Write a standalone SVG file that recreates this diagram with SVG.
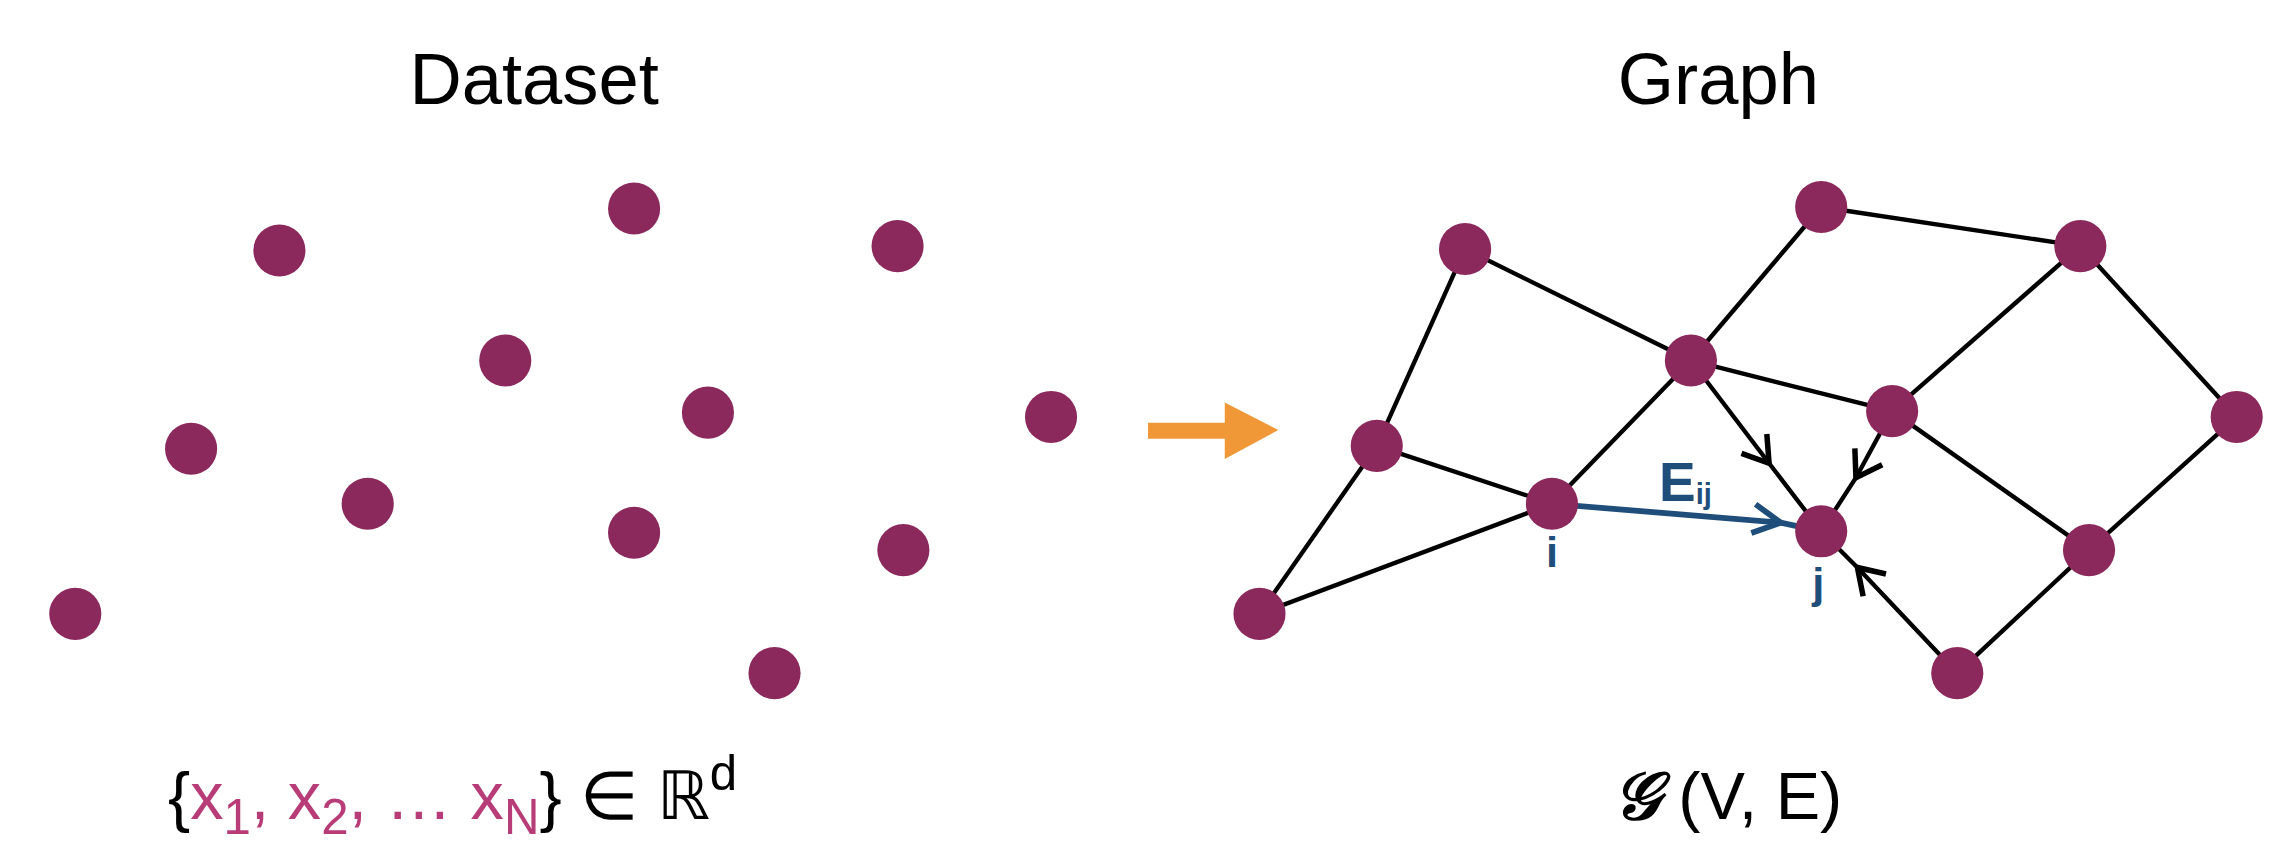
<svg xmlns="http://www.w3.org/2000/svg" width="2270" height="844" viewBox="0 0 2270 844">
<defs>
<style>
.dot{fill:#8b285c}
.e{stroke:#000;stroke-width:3;fill:none}
.t{font-family:"Liberation Sans",Arial,sans-serif;fill:#000}
.lb{font-family:"Liberation Sans",Arial,sans-serif;font-weight:bold;fill:#1f4e7a}
.x{fill:#b83c78}
</style>
<marker id="ch" viewBox="-20 -14 22 28" markerWidth="22" markerHeight="28" markerUnits="userSpaceOnUse" orient="auto" refX="0" refY="0">
<path d="M-17,-11 L0,0 L-17,11" fill="none" stroke="#000" stroke-width="3.8"/>
</marker>
<marker id="chb" viewBox="-22 -14 24 28" markerWidth="24" markerHeight="28" markerUnits="userSpaceOnUse" orient="auto" refX="0" refY="0">
<path d="M-19,-10 L0,0 L-19,10" fill="none" stroke="#1f4e7a" stroke-width="4"/>
</marker>
</defs>
<rect width="2270" height="844" fill="#fff"/>
<g transform="scale(1.4477)">
<text class="t" x="369" y="72" font-size="50" text-anchor="middle">Dataset</text>
<text class="t" x="1187" y="72" font-size="50" text-anchor="middle">Graph</text>
<g id="dataset">
<circle class="dot" cx="193" cy="173" r="18"/><circle class="dot" cx="438" cy="144" r="18"/>
<circle class="dot" cx="620" cy="170" r="18"/><circle class="dot" cx="349" cy="249" r="18"/>
<circle class="dot" cx="489" cy="285" r="18"/><circle class="dot" cx="726" cy="288" r="18"/>
<circle class="dot" cx="132" cy="310" r="18"/><circle class="dot" cx="254" cy="348" r="18"/>
<circle class="dot" cx="438" cy="368" r="18"/><circle class="dot" cx="624" cy="380" r="18"/>
<circle class="dot" cx="52" cy="424" r="18"/><circle class="dot" cx="535" cy="465" r="18"/>
</g>
<g id="transform-arrow"><path d="M793,292 H846 V278 L883,297 L846,317 V303 H793 Z" fill="#f09838"/></g>
<g id="connectors">
<line class="e" x1="1012" y1="172" x2="951" y2="308"/>
<line class="e" x1="1012" y1="172" x2="1168" y2="249"/>
<line class="e" x1="1258" y1="143" x2="1168" y2="249"/>
<line class="e" x1="1258" y1="143" x2="1437" y2="170"/>
<line class="e" x1="1437" y1="170" x2="1307" y2="284"/>
<line class="e" x1="1437" y1="170" x2="1545" y2="288"/>
<line class="e" x1="1168" y1="249" x2="1307" y2="284"/>
<line class="e" x1="1168" y1="249" x2="1072" y2="348"/>
<line class="e" x1="1307" y1="284" x2="1443" y2="380"/>
<line class="e" x1="951" y1="308" x2="1072" y2="348"/>
<line class="e" x1="951" y1="308" x2="870" y2="424"/>
<line class="e" x1="1072" y1="348" x2="870" y2="424"/>
<line class="e" x1="1443" y1="380" x2="1545" y2="288"/>
<line class="e" x1="1443" y1="380" x2="1352" y2="465"/>
<polyline class="e" points="1168,249 1222,320 1258,367" marker-mid="url(#ch)"/>
<polyline class="e" points="1307,284 1282,330 1258,367" marker-mid="url(#ch)"/>
<polyline class="e" points="1352,465 1283,392 1258,367" marker-mid="url(#ch)"/>
<polyline points="1072,348 1230,361 1258,367" fill="none" stroke="#1f4e7a" stroke-width="4" marker-mid="url(#chb)"/>
</g>
<g id="graph-nodes">
<circle class="dot" cx="1012" cy="172" r="18"/><circle class="dot" cx="1258" cy="143" r="18"/>
<circle class="dot" cx="1437" cy="170" r="18"/><circle class="dot" cx="1168" cy="249" r="18"/>
<circle class="dot" cx="1307" cy="284" r="18"/><circle class="dot" cx="1545" cy="288" r="18"/>
<circle class="dot" cx="951" cy="308" r="18"/><circle class="dot" cx="1072" cy="348" r="18"/>
<circle class="dot" cx="1258" cy="367" r="18"/><circle class="dot" cx="1443" cy="380" r="18"/>
<circle class="dot" cx="870" cy="424" r="18"/><circle class="dot" cx="1352" cy="465" r="18"/>
</g>
<text class="lb" x="1146" y="346" font-size="38">E<tspan font-size="20" dy="2">ij</tspan></text>
<text class="lb" x="1072" y="392" font-size="30" text-anchor="middle">i</text>
<text class="lb" x="1256" y="413" font-size="30" text-anchor="middle">j</text>
<text class="t" x="116" y="566" font-size="46">{<tspan class="x">x</tspan><tspan class="x" font-size="34" dy="10">1</tspan><tspan class="x" dy="-10">, x</tspan><tspan class="x" font-size="34" dy="10">2</tspan><tspan class="x" dy="-10">, … x</tspan><tspan class="x" font-size="34" dy="10">N</tspan><tspan dy="-10">} ∈ ℝ</tspan><tspan font-size="34" dy="-20">d</tspan></text>
<text x="1114" y="566" font-size="46"><tspan font-family="'Liberation Serif',serif" font-style="italic" font-weight="bold">𝒢</tspan><tspan class="t" font-family="'Liberation Sans',Arial,sans-serif"> (V, E)</tspan></text>
</g>
</svg>
